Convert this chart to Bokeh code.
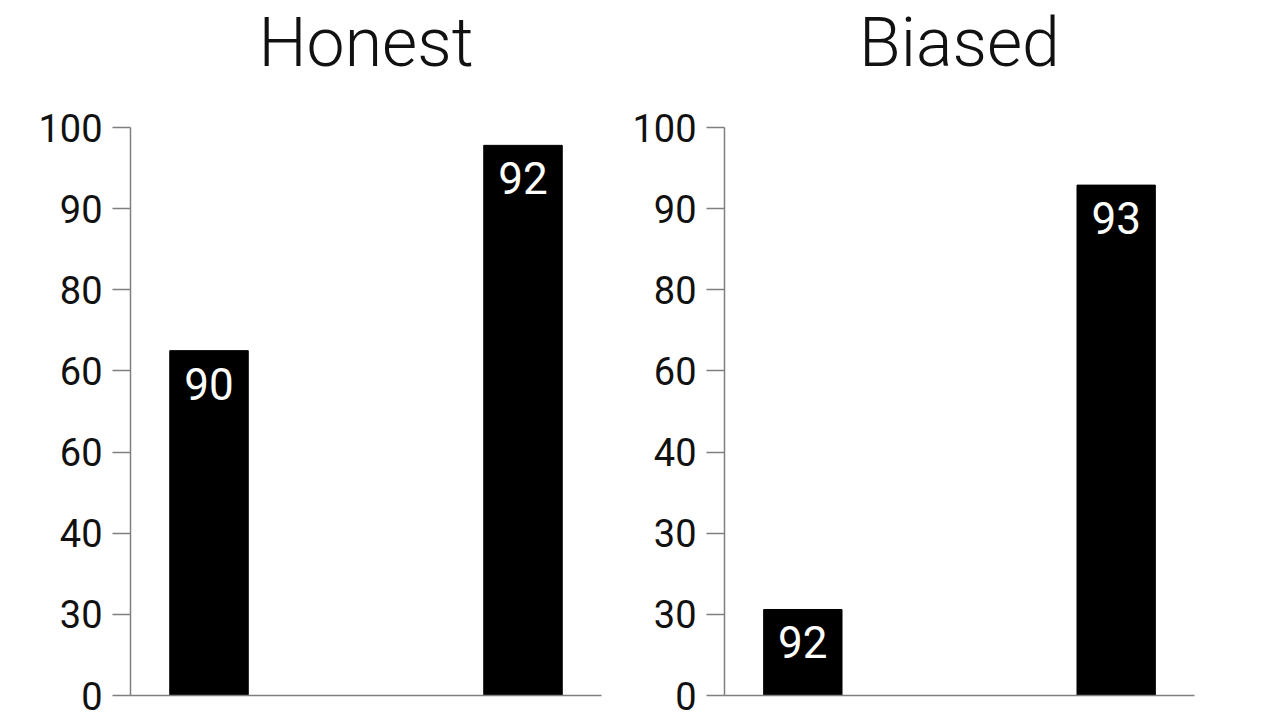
from bokeh.plotting import figure
from bokeh.layouts import row
from bokeh.models import ColumnDataSource, FixedTicker, Range1d
from bokeh.core.properties import value
from bokeh.embed import file_html
from bokeh.resources import INLINE

# ---- data (bar heights read in axis-step units: one step between ticks) ----
bar_x = [0.5, 2.5]
honest_heights = [4.25, 6.78]
honest_labels = ["90", "92"]
biased_heights = [1.06, 6.29]
biased_labels = ["92", "93"]
tick_positions = [0, 1, 2, 3, 4, 5, 6, 7]
honest_tick_labels = ["0", "30", "40", "60", "60", "80", "90", "100"]
biased_tick_labels = ["0", "30", "30", "40", "60", "80", "90", "100"]

AXIS_COLOR = "#7f7f7f"


def make_panel(title, heights, labels, tick_labels, frame_w, border_left, border_right):
    p = figure(frame_width=frame_w, frame_height=568, output_backend="svg", toolbar_location=None,
               x_range=Range1d(0, 3), y_range=Range1d(0, 7),
               min_border_left=border_left, min_border_right=border_right,
               min_border_top=127, min_border_bottom=22, title=title)
    p.outline_line_color = None
    p.grid.grid_line_color = None
    p.background_fill_color = "white"
    p.border_fill_color = "white"

    p.title.text_font = "Roboto Light"
    p.title.text_font_style = "normal"
    p.title.text_font_size = "68px"
    p.title.text_color = "#111111"
    p.title.align = "center"
    p.title.standoff = 0
    p.title.padding = dict(left=0, right=0, top=0, bottom=45)

    src = ColumnDataSource(dict(x=bar_x, top=heights, label=labels))
    p.vbar(x="x", top="top", bottom=0, width=0.5, source=src,
           fill_color="black", line_color="black")
    p.text(x="x", y="top", text="label", source=src, text_color="white",
           text_font=value("Roboto"), text_font_size="44px",
           text_align="center", text_baseline="middle", y_offset=33)

    ya = p.yaxis[0]
    ya.ticker = FixedTicker(ticks=tick_positions)
    ya.major_label_overrides = {t: l for t, l in zip(tick_positions, tick_labels)}
    ya.major_label_text_font = "Roboto"
    ya.major_label_text_font_size = "38px"
    ya.major_label_text_color = "#111111"
    ya.major_label_standoff = 10
    ya.major_tick_out = 18
    ya.major_tick_in = 0
    ya.minor_tick_line_color = None
    ya.axis_line_color = AXIS_COLOR
    ya.major_tick_line_color = AXIS_COLOR
    ya.axis_line_width = 1.5
    ya.major_tick_line_width = 1.5

    xa = p.xaxis[0]
    xa.ticker = FixedTicker(ticks=[])
    xa.major_label_text_font_size = "0px"
    xa.major_tick_line_color = None
    xa.minor_tick_line_color = None
    xa.axis_line_color = AXIS_COLOR
    xa.axis_line_width = 1.5
    return p


p1 = make_panel("Honest", honest_heights, honest_labels, honest_tick_labels, 471, 130, 7)
p2 = make_panel("Biased", biased_heights, biased_labels, biased_tick_labels, 470, 116, 40)

layout = row(p1, p2, spacing=0)
open("out.html", "w").write(file_html(layout, INLINE))
